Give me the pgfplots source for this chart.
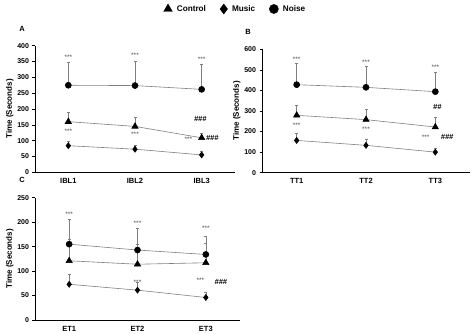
\documentclass[border=0pt]{standalone}
\usepackage{pgfplots}
\pgfplotsset{compat=1.18}
\usepackage{fontspec}
\setmainfont{Liberation Sans}

\tikzset{
  star/.style={font=\fontsize{6.5}{6.5}\selectfont, text=black!70},
  hash/.style={font=\bfseries\itshape\fontsize{7.5}{7.5}\selectfont},
}
\pgfplotsset{
  panel/.style={
    scale only axis,
    axis x line=bottom, axis y line=left,
    axis line style={-, black, line width=0.5pt},
    tick style={black, line width=0.5pt},
    tick align=outside,
    major tick length=2.5pt,
    xmin=0.5, xmax=3.5,
    xtick={1,2,3},
    x tick style={draw=none},
    extra x ticks={0.5,1.5,2.5,3.5},
    extra x tick labels={},
    extra x tick style={major tick length=2.5pt, tick style={draw=black}},
    ymin=0,
    /pgf/number format/assume math mode=true,
    yticklabel style={font=\bfseries\fontsize{7}{7}\selectfont},
    xticklabel style={font=\bfseries\fontsize{7.5}{7.5}\selectfont},
    ylabel={Time (Seconds)},
    ylabel style={font=\bfseries\fontsize{8}{8}\selectfont, yshift=-3pt},
    error bars/y dir=plus,
    error bars/y explicit,
    error bars/error mark options={rotate=90, mark size=1.5pt, gray},
    error bars/error bar style={gray, line width=0.5pt},
  },
  series/.style={color=gray, line width=0.6pt, mark options={draw=black, fill=black, solid}},
  noise/.style={series, mark=*, mark size=3pt},
  control/.style={series, mark=triangle*, mark size=3.6pt},
  music/.style={series, mark=diamond*, mark size=3pt},
}

% Panel A: IBL trials
\pgfplotstableread{
x y e
1 275 74
2 274 76
3 262 79
}\Anoise
\pgfplotstableread{
x y e
1 160 29
2 145 28
3 109 15
}\Acontrol
\pgfplotstableread{
x y e
1 84 15
2 73 13
3 55 13
}\Amusic
% Panel B: TT trials
\pgfplotstableread{
x y e
1 428 102
2 415 101
3 394 94
}\Bnoise
\pgfplotstableread{
x y e
1 279 50
2 258 50
3 222 47
}\Bcontrol
\pgfplotstableread{
x y e
1 157 34
2 133 31
3 100 20
}\Bmusic
% Panel C: ET trials
\pgfplotstableread{
x y e
1 155 51
2 143 44
3 134 38
}\Cnoise
\pgfplotstableread{
x y e
1 121 45
2 114 40
3 117 40
}\Ccontrol
\pgfplotstableread{
x y e
1 73 20
2 61 17
3 46 11
}\Cmusic

\begin{document}
\begin{tikzpicture}
\path[use as bounding box] (0,0) rectangle (474pt,334pt);

% ---------- A ----------
\begin{axis}[panel, at={(35pt,161.7pt)}, anchor=south west,
  width=200pt, height=126.6pt, ymax=400, ytick={0,50,...,400},
  xticklabels={IBL1,IBL2,IBL3},
  legend style={at={(1.0025,1.29)}, anchor=center, draw=none, fill=none,
    legend columns=3, font=\bfseries\fontsize{8.2}{9}\selectfont,
    /tikz/every odd column/.append style={column sep=2.5pt},
    /tikz/every even column/.append style={column sep=12pt}},
  legend cell align=left]
\addlegendimage{only marks, mark=triangle*, mark size=5pt, black}
\addlegendentry{Control}
\addlegendimage{only marks, mark=diamond*, mark size=5pt, black}
\addlegendentry{Music}
\addlegendimage{only marks, mark=*, mark size=4.6pt, black}
\addlegendentry{Noise}
\addplot[noise, forget plot] table[x=x, y=y, y error=e] {\Anoise};
\addplot[control, forget plot] table[x=x, y=y, y error=e] {\Acontrol};
\addplot[music, forget plot] table[x=x, y=y, y error=e] {\Amusic};
\node[star] at (axis cs:1,365) {***};
\node[star] at (axis cs:2,371) {***};
\node[star] at (axis cs:3,358) {***};
\node[star] at (axis cs:1,131) {***};
\node[star] at (axis cs:2,120) {***};
\node[star] at (axis cs:2.8,104) {***};
\node[hash] at (axis cs:3.16,107) {\#\#\#};
\node[hash] at (axis cs:2.98,170) {\#\#\#};
\end{axis}

% ---------- B ----------
\begin{axis}[panel, at={(262pt,161.3pt)}, anchor=south west,
  width=208pt, height=123.4pt, ymax=600, ytick={0,100,...,600},
  xticklabels={TT1,TT2,TT3}]
\addplot[noise] table[x=x, y=y, y error=e] {\Bnoise};
\addplot[control] table[x=x, y=y, y error=e] {\Bcontrol};
\addplot[music] table[x=x, y=y, y error=e] {\Bmusic};
\node[star] at (axis cs:1,550) {***};
\node[star] at (axis cs:2,536) {***};
\node[star] at (axis cs:3,515) {***};
\node[star] at (axis cs:1,231) {***};
\node[star] at (axis cs:2,213) {***};
\node[star] at (axis cs:2.86,171) {***};
\node[hash] at (axis cs:3.17,175) {\#\#\#};
\node[hash] at (axis cs:3.03,321) {\#\#};
\end{axis}

% ---------- C ----------
\begin{axis}[panel, at={(35pt,14pt)}, anchor=south west,
  width=205pt, height=122.3pt, ymax=250, ytick={0,50,...,250},
  xticklabels={ET1,ET2,ET3}]
\addplot[noise] table[x=x, y=y, y error=e] {\Cnoise};
\addplot[control] table[x=x, y=y, y error=e] {\Ccontrol};
\addplot[music] table[x=x, y=y, y error=e] {\Cmusic};
\node[star] at (axis cs:1,217) {***};
\node[star] at (axis cs:2,198) {***};
\node[star] at (axis cs:3,188) {***};
\node[star] at (axis cs:2,78) {***};
\node[star] at (axis cs:2.92,81) {***};
\node[hash] at (axis cs:3.22,77) {\#\#\#};
\end{axis}

% panel letters
\node[font=\bfseries\fontsize{7.5}{8}\selectfont] at (22pt,305pt) {A};
\node[font=\bfseries\fontsize{7.5}{8}\selectfont] at (248pt,302pt) {B};
\node[font=\bfseries\fontsize{7.5}{8}\selectfont] at (22pt,154pt) {C};
\end{tikzpicture}
\end{document}
